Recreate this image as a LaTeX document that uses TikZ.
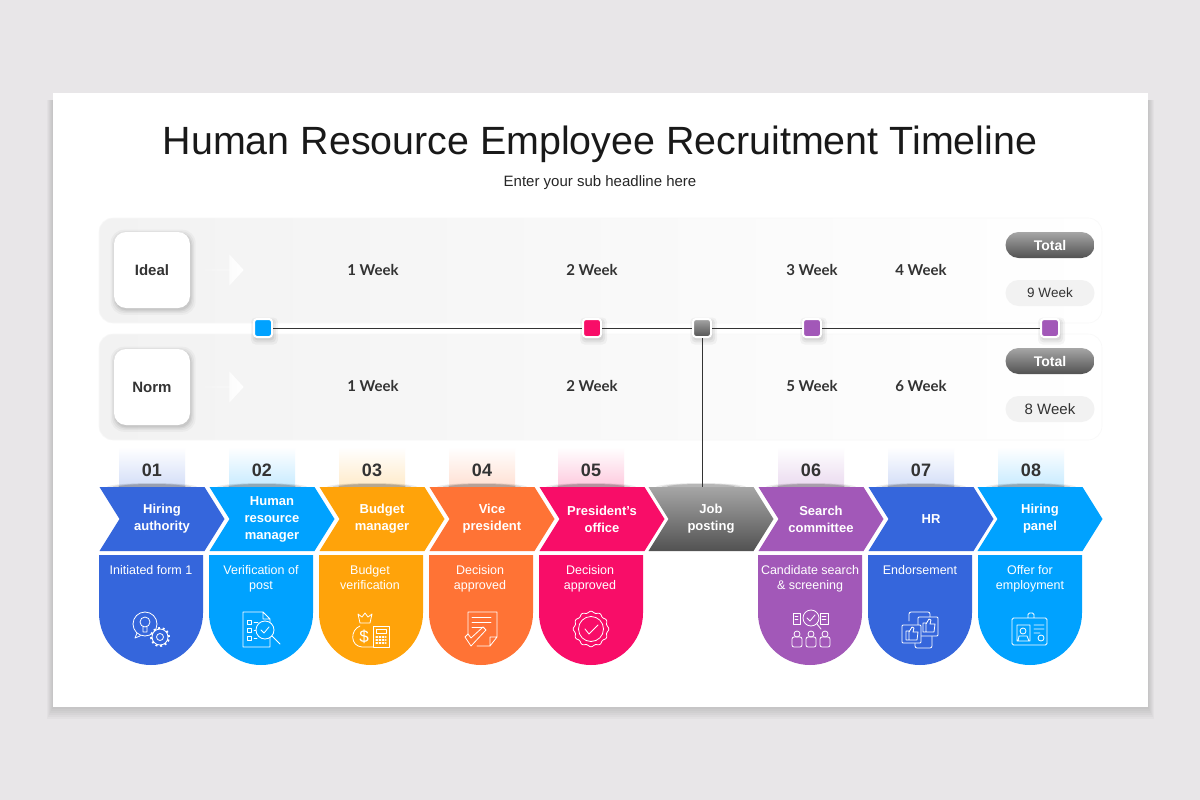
\documentclass[tikz,border=0pt]{standalone}
\usepackage{fontspec}
\setmainfont{Liberation Sans}
\newfontfamily\weekfont{Lato}
\usetikzlibrary{shapes.arrows}
\usetikzlibrary{shapes.geometric}
\usetikzlibrary{shapes.symbols}
\usetikzlibrary{shadows}
\definecolor{pagegray}{HTML}{E8E6E8}
\definecolor{panelgray}{HTML}{F2F2F2}
\definecolor{inkgray}{HTML}{333333}
\definecolor{royal}{HTML}{3566DC}
\definecolor{sky}{HTML}{00A2FF}
\definecolor{amber}{HTML}{FFA30A}
\definecolor{tangerine}{HTML}{FF7335}
\definecolor{rosered}{HTML}{F80D68}
\definecolor{violet}{HTML}{A258B8}
\tikzset{
  softlayer/.style 2 args={general shadow={fill=black, opacity=#2, shadow scale=#1, shadow xshift=1pt, shadow yshift=-2pt}},
  slideedge/.style={fill=black, opacity=.022},
  panel/.style={rounded corners=14pt, draw=panelgray!50, line width=0.6pt, left color=panelgray, middle color=panelgray!65, right color=white},
  labelbox/.style={softlayer={1.12}{.03}, softlayer={1.08}{.04}, softlayer={1.04}{.05}, softlayer={1.01}{.06}, fill=white, rounded corners=12pt, minimum size=76pt, inner sep=0pt, text=inkgray, font=\fontsize{15}{18}\selectfont\bfseries},
  fadearrow/.style={single arrow, shape border rotate=0, minimum height=39pt, minimum width=31pt, single arrow head extend=9.5pt, single arrow tip angle=95, inner sep=0pt, left color=panelgray!60, middle color=white, right color=white},
  week/.style={text=inkgray, font=\fontsize{15}{18}\weekfont\bfseries},
  pill/.style={rounded corners=13pt, minimum width=89pt, minimum height=26pt, inner sep=0pt},
  totalpill/.style={pill, top color=black!35, bottom color=black!68, text=white, font=\fontsize{14}{17}\selectfont\bfseries},
  valuepill/.style={pill, fill=panelgray, text=inkgray, font=\fontsize{13.5}{17}\selectfont},
  milestone/.style={softlayer={1.5}{.04}, softlayer={1.3}{.05}, softlayer={1.12}{.06}, draw=white, line width=2pt, rounded corners=3pt, minimum size=18pt, inner sep=0pt},
  chevron/.style={signal, signal to=east, signal from=west, signal pointer angle=116, minimum width=125pt, minimum height=64pt, inner sep=0pt, text=white, align=center, font=\fontsize{13}{17}\selectfont\bfseries},
  number/.style={text=inkgray, font=\fontsize{18}{20}\selectfont\bfseries},
  glow/.style={minimum width=66pt, minimum height=40pt, inner sep=0pt},
  dent/.style={ellipse, minimum width=68pt, minimum height=6pt, inner sep=0pt, fill=black, fill opacity=.14,
    general shadow={fill=black, opacity=.07, shadow scale=1.32},
    general shadow={fill=black, opacity=.1, shadow scale=1.16}},
  tabtext/.style={anchor=north, text=white, align=center, inner sep=0pt, font=\fontsize{12.5}{15}\selectfont},
  iconline/.style={draw=white, line width=0.8pt, line join=round, line cap=round},
}
\begin{document}
\begin{tikzpicture}[x=1pt, y=-1pt]
\useasboundingbox (0,0) rectangle (1200,800);
\fill[pagegray] (0,0) rectangle (1200,800);
\fill[slideedge] (47,100) rectangle (1154,719);
\fill[slideedge] (48,100) rectangle (1153,717);
\fill[slideedge] (49,100) rectangle (1152,715);
\fill[slideedge] (50,100) rectangle (1151,713);
\fill[slideedge] (51,100) rectangle (1150,711);
\fill[slideedge] (52,100) rectangle (1149,709);
\fill[white] (53,93) rectangle (1148,707);

\node[text=black!90, font=\fontsize{39.4}{44}\selectfont] (title) at (600,144) {Human Resource Employee Recruitment Timeline};
\node[text=black!85, font=\fontsize{15}{18}\selectfont] (sub) at (600,183) {Enter your sub headline here};

\draw[panel] (99,218) rectangle (1102,323);
\draw[panel] (99,334) rectangle (1102,440);

\node[labelbox] (ideal) at (152,270) {Ideal};
\node[labelbox] (norm) at (152,387) {Norm};
\node[fadearrow] (arrowA) at (224,270) {};
\node[fadearrow] (arrowB) at (224,387) {};

\node[week] (weekA1) at (373,270) {1 Week};
\node[week] (weekA2) at (592,270) {2 Week};
\node[week] (weekA3) at (812,270) {3 Week};
\node[week] (weekA4) at (921,270) {4 Week};
\node[week] (weekB1) at (373,386) {1 Week};
\node[week] (weekB2) at (592,386) {2 Week};
\node[week] (weekB3) at (812,386) {5 Week};
\node[week] (weekB4) at (921,386) {6 Week};

\node[totalpill] (totalA) at (1050,245) {Total};
\node[valuepill] (valueA) at (1050,293) {9 Week};
\node[totalpill] (totalB) at (1050,361) {Total};
\node[valuepill, font=\fontsize{15}{17}\selectfont] (valueB) at (1050,409) {8 Week};

\node[glow, top color=white, bottom color=royal!22] (glowA) at (152,467) {};
\node[glow, top color=white, bottom color=sky!22] (glowB) at (262,467) {};
\node[glow, top color=white, bottom color=amber!22] (glowC) at (372,467) {};
\node[glow, top color=white, bottom color=tangerine!22] (glowD) at (482,467) {};
\node[glow, top color=white, bottom color=rosered!22] (glowE) at (591,467) {};
\node[glow, top color=white, bottom color=violet!22] (glowF) at (811,467) {};
\node[glow, top color=white, bottom color=royal!22] (glowG) at (921,467) {};
\node[glow, top color=white, bottom color=sky!22] (glowH) at (1031,467) {};

\node[dent] (dentA) at (152,487) {};
\node[dent] (dentB) at (262,487) {};
\node[dent] (dentC) at (372,487) {};
\node[dent] (dentD) at (482,487) {};
\node[dent] (dentE) at (591,487) {};
\node[dent] (dentF) at (701,487) {};
\node[dent] (dentG) at (811,487) {};
\node[dent] (dentH) at (921,487) {};
\node[dent] (dentI) at (1031,487) {};

\node[number] (numA) at (152,470) {01};
\node[number] (numB) at (262,470) {02};
\node[number] (numC) at (372,470) {03};
\node[number] (numD) at (482,470) {04};
\node[number] (numE) at (591,470) {05};
\node[number] (numF) at (811,470) {06};
\node[number] (numG) at (921,470) {07};
\node[number] (numH) at (1031,470) {08};

\node[chevron, fill=royal] (hiring) at (162,519) {Hiring\\authority};
\node[chevron, fill=sky] (human) at (272,519) {Human\\resource\\manager};
\node[chevron, fill=amber] (budget) at (382,519) {Budget\\manager};
\node[chevron, fill=tangerine] (vice) at (492,519) {Vice\\president};
\node[chevron, fill=rosered] (president) at (602,519) {President's\\office};
\node[chevron, top color=black!35, bottom color=black!68] (job) at (711,519) {Job\\posting};
\node[chevron, fill=violet] (search) at (821,519) {Search\\committee};
\node[chevron, fill=royal] (hr) at (931,519) {HR};
\node[chevron, fill=sky] (panelB) at (1040,519) {Hiring\\panel};

\fill[royal] (99,555) [sharp corners] -- (203,555) [rounded corners=52pt] -- (203,665) -- (99,665) [sharp corners] -- cycle;
\fill[sky] (209,555) [sharp corners] -- (313,555) [rounded corners=52pt] -- (313,665) -- (209,665) [sharp corners] -- cycle;
\fill[amber] (319,555) [sharp corners] -- (423,555) [rounded corners=52pt] -- (423,665) -- (319,665) [sharp corners] -- cycle;
\fill[tangerine] (429,555) [sharp corners] -- (533,555) [rounded corners=52pt] -- (533,665) -- (429,665) [sharp corners] -- cycle;
\fill[rosered] (539,555) [sharp corners] -- (643,555) [rounded corners=52pt] -- (643,665) -- (539,665) [sharp corners] -- cycle;
\fill[violet] (758,555) [sharp corners] -- (862,555) [rounded corners=52pt] -- (862,665) -- (758,665) [sharp corners] -- cycle;
\fill[royal] (868,555) [sharp corners] -- (972,555) [rounded corners=52pt] -- (972,665) -- (868,665) [sharp corners] -- cycle;
\fill[sky] (978,555) [sharp corners] -- (1082,555) [rounded corners=52pt] -- (1082,665) -- (978,665) [sharp corners] -- cycle;

\node[tabtext] (tabA) at (151,565.5) {Initiated form 1};
\node[tabtext] (tabB) at (261,565.5) {Verification of\\post};
\node[tabtext] (tabC) at (370,565.5) {Budget\\verification};
\node[tabtext] (tabD) at (480,565.5) {Decision\\approved};
\node[tabtext] (tabE) at (590,565.5) {Decision\\approved};
\node[tabtext] (tabF) at (810,565.5) {Candidate search\\\& screening};
\node[tabtext] (tabG) at (920,565.5) {Endorsement};
\node[tabtext] (tabH) at (1030,565.5) {Offer for\\employment};

\draw[iconline] (145,624) circle (12pt) (137,633) -- (135,638) -- (140,636);
\draw[iconline] (145,622) circle (5pt) (143,627) -- (143,632) -- (147,632) -- (147,627);
\draw[iconline, fill=royal] (160,637) circle (8pt);
\draw[iconline, line cap=butt, line width=2pt, dash pattern=on 2pt off 2.7pt] (160,637) circle (9pt);
\draw[iconline] (160,637) circle (3.5pt);

\draw[iconline] (243,612) -- (263,612) -- (270,619) -- (270,647) -- (243,647) -- cycle (263,612) -- (263,619) -- (270,619);
\draw[iconline] (247,620) rectangle (251,624) (247,628) rectangle (251,632) (247,636) rectangle (251,640);
\draw[iconline] (254,622) -- (258,622) (254,630) -- (257,630) (254,638) -- (257,638);
\draw[iconline, fill=sky] (265,630) circle (9pt);
\draw[iconline] (261,630) -- (264,633) -- (269,627) (272,636) -- (280,644);

\draw[iconline] (358,614) -- (362,617) -- (365,613) -- (368,617) -- (372,614) -- (370,623) -- (360,623) -- cycle;
\draw[iconline] (360,626) .. controls (350,630) and (350,646) .. (362,647) -- (373,647);
\node[text=white, inner sep=0pt, font=\fontsize{17}{17}\selectfont] (dollar) at (364,637) {\$};
\draw[iconline] (373,626) rectangle (389,647) (376,629) rectangle (386,633);
\draw[iconline, line width=1.2pt, dash pattern=on 1.5pt off 1.7pt] (376,637) -- (386,637) (376,640) -- (386,640) (376,643) -- (386,643);

\draw[iconline] (468,635) -- (468,612) -- (497,612) -- (497,637) (477,646) -- (490,646) -- (497,637) -- (490,637) -- (490,646);
\draw[iconline] (472,617) -- (491,617) (472,622) -- (491,622) (472,627) -- (484,627);
\draw[iconline] (465,637) -- (468,634) -- (471,638) -- (483,627) -- (486,630) -- (471,646) -- cycle;

\draw[iconline, smooth] plot[domain=0:360, samples=97] ({591+(17+0.8*cos(12*\x))*cos(\x)},{629+(17+0.8*cos(12*\x))*sin(\x)});
\draw[iconline] (591,629) circle (12.5pt);
\draw[iconline] (585,629) -- (589,634) -- (598,625);

\draw[iconline] (793,613) rectangle (800,624) (820,613) rectangle (828,624);
\draw[iconline] (795,616) -- (798,616) (795,619) -- (798,619) (822,616) -- (826,616) (822,619) -- (826,619);
\draw[iconline] (811,618) circle (8pt) (807,618) -- (810,621) -- (815,615) (817,624) -- (821,629);
\draw[iconline, rounded corners=2pt] (792,647) rectangle (802,637) (806,647) rectangle (816,637) (820,647) rectangle (830,637);
\draw[iconline] (797,634) circle (3pt) (811,634) circle (3pt) (825,634) circle (3pt);

\draw[iconline, rounded corners=2pt] (909,621) -- (909,612) -- (930,612) -- (930,617) (915,643) -- (915,648) -- (932,648) -- (932,636);
\draw[iconline, rounded corners=1pt, fill=royal] (918,617) rectangle (938,636);
\draw[iconline, rounded corners=1pt, fill=royal] (902,625) rectangle (921,643);
\draw[iconline] (906,631) rectangle (909,640) (909,632) -- (912,627) -- (914,628) -- (913,632) -- (918,632) -- (917,640) -- (909,640);
\draw[iconline] (923,623) rectangle (926,632) (926,624) -- (929,619) -- (931,620) -- (930,624) -- (935,624) -- (934,632) -- (926,632);

\draw[iconline, rounded corners=1.5pt] (1012,618) rectangle (1047,645) (1028,618) -- (1028,613) -- (1034,613) -- (1034,618);
\draw[iconline] (1017,625) rectangle (1030,641) (1023,631) circle (3pt) (1018,641) -- (1019,636) -- (1027,636) -- (1029,641);
\draw[iconline] (1034,625) -- (1044,625) (1034,629) -- (1044,629) (1034,633) -- (1040,633) (1041,638) circle (3pt);

\node[milestone, fill=sky] (stepA) at (263,328) {};
\node[milestone, fill=rosered] (stepB) at (592,328) {};
\node[milestone, top color=black!35, bottom color=black!68] (stepC) at (702,328) {};
\node[milestone, fill=violet] (stepD) at (812,328) {};
\node[milestone, fill=violet] (stepE) at (1050,328) {};

\draw[inkgray, line width=1pt] (stepA) -- (stepB);
\draw[inkgray, line width=1pt] (stepB) -- (stepC);
\draw[inkgray, line width=1pt] (stepC) -- (stepD);
\draw[inkgray, line width=1pt] (stepD) -- (stepE);
\draw[inkgray, line width=1pt] (stepC) -- (stepC |- job.north);
\end{tikzpicture}
\end{document}
